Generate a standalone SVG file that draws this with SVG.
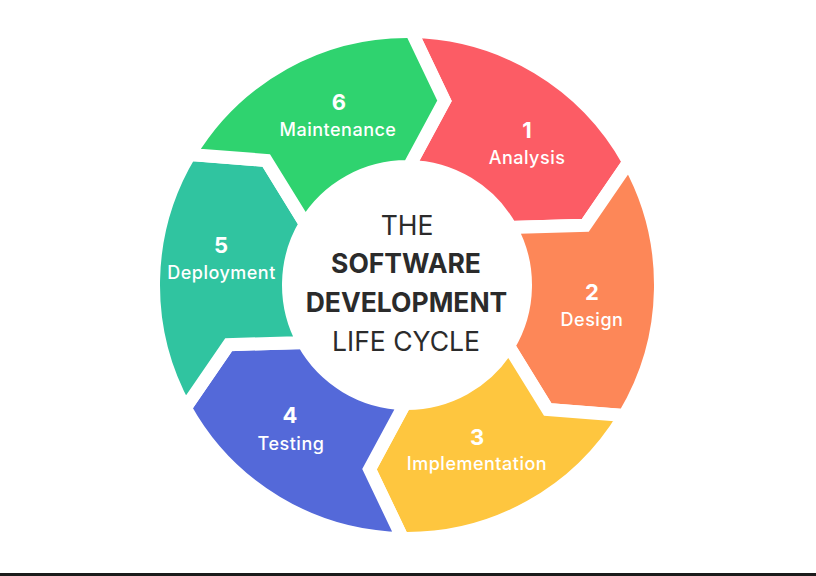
<svg xmlns="http://www.w3.org/2000/svg" width="816" height="576" viewBox="0 0 816 576">
  <style>
    .seg { stroke: #ffffff; stroke-width: 13; stroke-linejoin: miter; stroke-miterlimit: 10; }
    .num { font-family: Inter, "Noto Sans", "Liberation Sans", sans-serif; font-size: 22px; font-weight: 700; fill: #ffffff; text-anchor: middle; }
    .lbl { font-family: Inter, "Noto Sans", "Liberation Sans", sans-serif; font-size: 18px; font-weight: 500; fill: #ffffff; text-anchor: middle; letter-spacing: 0.5px; }
    .ttl { font-family: Inter, "Noto Sans", "Liberation Sans", sans-serif; font-size: 26.5px; fill: #2b2b2b; text-anchor: middle; }
    .reg { font-weight: 400; }
    .bold { font-weight: 700; }
  </style>
  <rect x="0" y="0" width="816" height="576" fill="#ffffff"/>
  <rect x="0" y="573" width="816" height="3" fill="#1b1b1b"/>

  <g id="step1">
    <path class="seg" fill="#fc5c65" d="M411.42 31.54 A253.5 253.5 0 0 1 628.72 162.10 L585.29 225.35 L510.64 227.55 A118.5 118.5 0 0 0 409.07 166.52 L444.48 100.77 Z"/>
    <text class="num" x="527" y="138">1</text>
    <text class="lbl" x="527" y="163.5">Analysis</text>
  </g>
  <g id="step2">
    <path class="seg" fill="#fd8758" d="M628.72 162.10 A253.5 253.5 0 0 1 624.29 415.56 L547.80 409.57 L508.57 346.03 A118.5 118.5 0 0 0 510.64 227.55 L585.29 225.35 Z"/>
    <text class="num" x="592" y="300">2</text>
    <text class="lbl" x="592" y="326">Design</text>
  </g>
  <g id="step3">
    <path class="seg" fill="#fec63f" d="M624.29 415.56 A253.5 253.5 0 0 1 402.58 538.46 L369.52 469.23 L404.93 403.48 A118.5 118.5 0 0 0 508.57 346.03 L547.80 409.57 Z"/>
    <text class="num" x="477" y="445">3</text>
    <text class="lbl" x="477" y="470">Implementation</text>
  </g>
  <g id="step4">
    <path class="seg" fill="#5469d9" d="M402.58 538.46 A253.5 253.5 0 0 1 185.28 407.90 L228.72 344.65 L303.36 342.45 A118.5 118.5 0 0 0 404.93 403.48 L369.52 469.23 Z"/>
    <text class="num" x="290" y="423">4</text>
    <text class="lbl" x="291" y="450">Testing</text>
  </g>
  <g id="step5">
    <path class="seg" fill="#30c4a0" d="M185.28 407.90 A253.5 253.5 0 0 1 189.71 154.44 L266.20 160.43 L305.43 223.97 A118.5 118.5 0 0 0 303.36 342.45 L228.72 344.65 Z"/>
    <text class="num" x="221" y="253">5</text>
    <text class="lbl" x="221.5" y="278.5">Deployment</text>
  </g>
  <g id="step6">
    <path class="seg" fill="#2fd36f" d="M189.71 154.44 A253.5 253.5 0 0 1 411.42 31.54 L444.48 100.77 L409.07 166.52 A118.5 118.5 0 0 0 305.43 223.97 L266.20 160.43 Z"/>
    <text class="num" x="339" y="110">6</text>
    <text class="lbl" x="338" y="136">Maintenance</text>
  </g>

  <g id="title">
    <text class="ttl reg" x="407" y="235">THE</text>
    <text class="ttl bold" x="406" y="273">SOFTWARE</text>
    <text class="ttl bold" x="406.5" y="312">DEVELOPMENT</text>
    <text class="ttl reg" x="406" y="351">LIFE CYCLE</text>
  </g>
</svg>
